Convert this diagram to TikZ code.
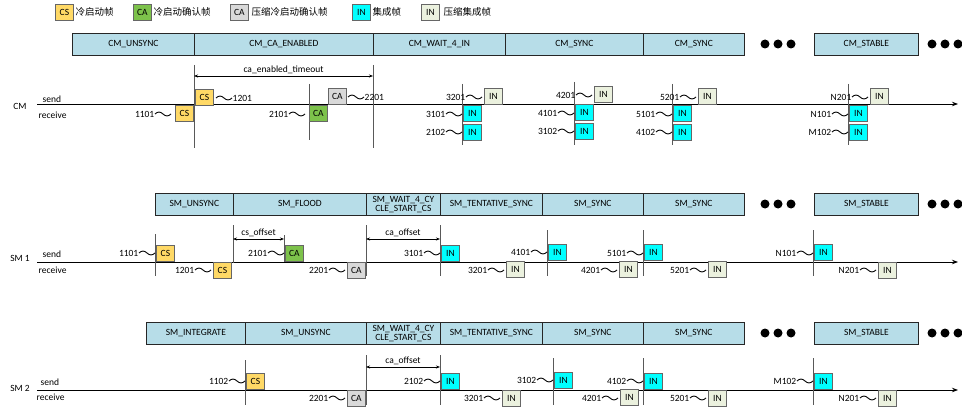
\documentclass[tikz,border=0pt]{standalone}
\usepackage{fontspec}
\setmainfont{Carlito}
\newfontfamily\cjk{Noto Sans CJK SC}
\usetikzlibrary{arrows.meta}
\definecolor{cCS}{HTML}{FFD966}
\definecolor{cCA}{HTML}{7DC24B}
\definecolor{cCAg}{HTML}{D9D9D9}
\definecolor{cIN}{HTML}{00FFFF}
\definecolor{cINl}{HTML}{EBF1DE}
\definecolor{cBar}{HTML}{B7DDE8}
\newcounter{bxc}
\tikzset{
 box/.style={draw=black!60,line width=0.9pt,minimum width=18pt,minimum height=16pt,inner sep=0pt,font=\fontsize{9.5}{10}\selectfont},
 CS/.style={box,fill=cCS},CA/.style={box,fill=cCA},CAg/.style={box,fill=cCAg},
 IN/.style={box,fill=cIN},INl/.style={box,fill=cINl},
 st/.style={draw=black!85,line width=0.8pt,fill=cBar,minimum height=22pt,inner sep=0pt,align=center,font=\fontsize{9.5}{9.5}\selectfont,anchor=north west},
 lbl/.style={inner sep=0.5pt,font=\fontsize{9.5}{10}\selectfont},
 cj/.style={inner sep=0.5pt,anchor=west,font=\cjk\fontsize{9.5}{10}\selectfont},
 tl/.style={line width=0.9pt},
 vl/.style={draw=black!65,line width=1pt},
 dim/.style={{Stealth[length=4pt]}-{Stealth[length=4pt]},line width=0.6pt},
 ax/.style={-{Stealth[length=6pt]},line width=0.9pt},
 dot/.style={circle,fill=black,inner sep=0pt,minimum size=9pt}
}
\newcommand\bx[4]{\stepcounter{bxc}\node[#3,anchor=north west] (b\thebxc) at (#1,#2) {#4};}
\newcommand\tw[3]{\draw[tl] ({#1-16},#2) sin ({#1-12},{#2-2}) cos ({#1-8},#2) sin ({#1-4},{#2+2}) cos (#1,#2);
 \stepcounter{bxc}\node[lbl,anchor=east] (t\thebxc) at ({#1-16},#2) {#3};}
\newcommand\tr[3]{\draw[tl] (#1,#2) sin ({#1+4},{#2-2}) cos ({#1+8},#2) sin ({#1+12},{#2+2}) cos ({#1+16},#2);
 \stepcounter{bxc}\node[lbl,anchor=west] (t\thebxc) at ({#1+16},#2) {#3};}
\newcommand\stt[4]{\stepcounter{bxc}\node[st,minimum width={(#2-#1)*1pt}] (s\thebxc) at (#1,#3) {#4};}
\newcommand\tdots[2]{\foreach \i in {0,1,2}{\node[dot] (d\i x#1y#2) at ({#1+\i*13},#2) {};}}
\begin{document}
\begin{tikzpicture}[x=1pt,y=-1pt]
\useasboundingbox (0,0) rectangle (962,412);
% legend
\bx{55}{4}{CS}{CS}\node[cj] (g1) at (75,12) {冷启动帧};
\bx{133}{4}{CA}{CA}\node[cj] (g2) at (153,12) {冷启动确认帧};
\bx{230}{4}{CAg}{CA}\node[cj] (g3) at (251,12) {压缩冷启动确认帧};
\bx{352}{4}{IN}{IN}\node[cj] (g4) at (372,12) {集成帧};
\bx{421}{4}{INl}{IN}\node[cj] (g5) at (443,12) {压缩集成帧};
% ================= CM
\stt{72}{194}{33}{CM\_UNSYNC}\stt{194}{373}{33}{CM\_CA\_ENABLED}\stt{373}{505}{33}{CM\_WAIT\_4\_IN}
\stt{505}{643}{33}{CM\_SYNC}\stt{643}{744}{33}{CM\_SYNC}\stt{814}{918}{33}{CM\_STABLE}
\tdots{765}{44}\tdots{932}{44}
\node[lbl] (cm) at (20,106) {CM};
\node[lbl,anchor=west] (cms) at (42,99) {send};
\node[lbl,anchor=west] (cmr) at (38,115) {receive};
\draw[ax] (37,104) -- (958,104);
\draw[vl] (194,65)--(194,148); \draw[vl] (309,84)--(309,140); \draw[vl] (373,65)--(373,148);
\draw[vl] (462,84)--(462,145); \draw[vl] (574,82)--(574,145); \draw[vl] (672,84)--(672,145); \draw[vl] (848,84)--(848,145);
\draw[dim] (194,76) -- node[lbl,above=1pt] {ca\_enabled\_timeout} (373,76);
\bx{195}{89}{CS}{CS}\tr{216}{98}{1201}
\bx{175}{105}{CS}{CS}\tw{171}{114}{1101}
\bx{328}{88}{CAg}{CA}\tr{348}{97}{2201}
\bx{309}{105}{CA}{CA}\tw{305}{114}{2101}
\bx{484}{88}{INl}{IN}\tw{482}{97}{3201}
\bx{463}{105}{IN}{IN}\tw{462}{114}{3101}
\bx{463}{124}{IN}{IN}\tw{462}{132}{2102}
\bx{594}{86}{INl}{IN}\tw{592}{95}{4201}
\bx{575}{104}{IN}{IN}\tw{574}{113}{4101}
\bx{575}{123}{IN}{IN}\tw{574}{131}{3102}
\bx{698}{88}{INl}{IN}\tw{696}{97}{5201}
\bx{673}{105}{IN}{IN}\tw{672}{114}{5101}
\bx{673}{124}{IN}{IN}\tw{672}{132}{4102}
\bx{870}{88}{INl}{IN}\tw{868}{97}{N201}
\bx{849}{105}{IN}{IN}\tw{848}{114}{N101}
\bx{849}{124}{IN}{IN}\tw{848}{132}{M102}
% ================= SM1
\stt{155}{233}{193}{SM\_UNSYNC}\stt{233}{366}{193}{SM\_FLOOD}\stt{366}{440}{193}{SM\_WAIT\_4\_CY\\CLE\_START\_CS}
\stt{440}{542}{193}{SM\_TENTATIVE\_SYNC}\stt{542}{643}{193}{SM\_SYNC}\stt{643}{744}{193}{SM\_SYNC}\stt{814}{918}{193}{SM\_STABLE}
\tdots{765}{204}\tdots{932}{204}
\node[lbl] (s1) at (20,258) {SM 1};
\node[lbl,anchor=west] (s1s) at (42,254) {send};
\node[lbl,anchor=west] (s1r) at (38,270) {receive};
\draw[ax] (37,262) -- (958,262);
\draw[vl] (155,234)--(155,276); \draw[vl] (233,225)--(233,263); \draw[vl] (284,235)--(284,262);
\draw[vl] (366,225)--(366,276); \draw[vl] (440,225)--(440,276); \draw[vl] (547,230)--(547,276);
\draw[vl] (643,230)--(643,276); \draw[vl] (813,230)--(813,276);
\draw[dim] (233,239) -- node[lbl,above=1pt] {cs\_offset} (284,239);
\draw[dim] (366,239) -- node[lbl,above=1pt] {ca\_offset} (440,239);
\bx{156}{245}{CS}{CS}\tw{155}{253}{1101}
\bx{213}{262}{CS}{CS}\tw{211}{270}{1201}
\bx{285}{245}{CA}{CA}\tw{284}{253}{2101}
\bx{347}{262}{CAg}{CA}\tw{345}{270}{2201}
\bx{441}{245}{IN}{IN}\tw{440}{253}{3101}
\bx{506}{261}{INl}{IN}\tw{504}{270}{3201}
\bx{548}{244}{IN}{IN}\tw{547}{252}{4101}
\bx{619}{261}{INl}{IN}\tw{617}{270}{4201}
\bx{644}{244}{IN}{IN}\tw{643}{253}{5101}
\bx{708}{261}{INl}{IN}\tw{706}{270}{5201}
\bx{814}{244}{IN}{IN}\tw{813}{253}{N101}
\bx{878}{262}{INl}{IN}\tw{876}{270}{N201}
% ================= SM2
\stt{146}{245}{322}{SM\_INTEGRATE}\stt{245}{366}{322}{SM\_UNSYNC}\stt{366}{440}{322}{SM\_WAIT\_4\_CY\\CLE\_START\_CS}
\stt{440}{542}{322}{SM\_TENTATIVE\_SYNC}\stt{542}{643}{322}{SM\_SYNC}\stt{643}{744}{322}{SM\_SYNC}\stt{814}{918}{322}{SM\_STABLE}
\tdots{765}{333}\tdots{932}{333}
\node[lbl] (s2) at (20,388) {SM 2};
\node[lbl,anchor=west] (s2s) at (40,382) {send};
\node[lbl,anchor=west] (s2r) at (36,397) {receive};
\draw[ax] (37,390) -- (958,390);
\draw[vl] (245,360)--(245,405); \draw[vl] (366,355)--(366,405); \draw[vl] (440,355)--(440,405);
\draw[vl] (553,358)--(553,405); \draw[vl] (643,358)--(643,405); \draw[vl] (813,358)--(813,405);
\draw[dim] (366,367) -- node[lbl,above=1pt] {ca\_offset} (440,367);
\bx{246}{373}{CS}{CS}\tw{245}{381}{1102}
\bx{347}{390}{CAg}{CA}\tw{345}{398}{2201}
\bx{441}{373}{IN}{IN}\tw{440}{381}{2102}
\bx{502}{390}{INl}{IN}\tw{500}{398}{3201}
\bx{554}{372}{IN}{IN}\tw{553}{380}{3102}
\bx{620}{389}{INl}{IN}\tw{618}{398}{4201}
\bx{644}{373}{IN}{IN}\tw{643}{381}{4102}
\bx{708}{390}{INl}{IN}\tw{706}{398}{5201}
\bx{814}{373}{IN}{IN}\tw{813}{381}{M102}
\bx{878}{390}{INl}{IN}\tw{876}{398}{N201}
\end{tikzpicture}
\end{document}
